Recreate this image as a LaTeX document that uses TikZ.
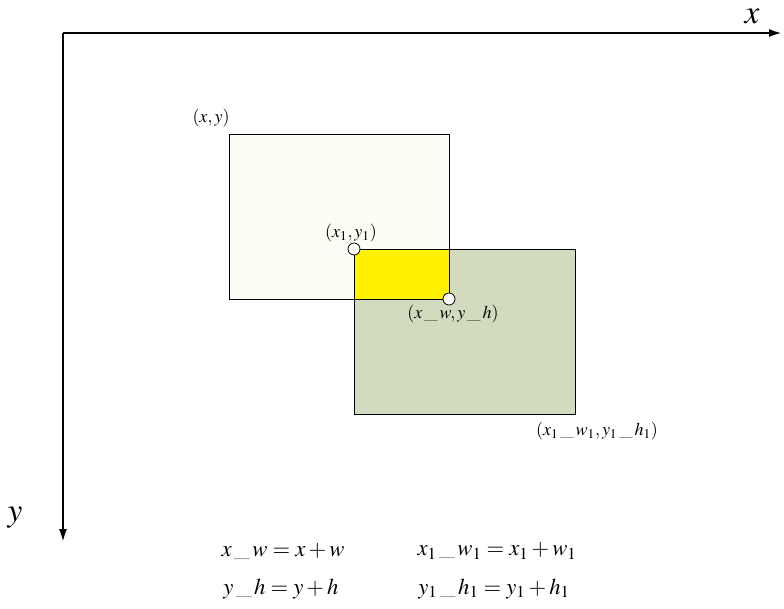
\documentclass[tikz,border=0pt]{standalone}
\usepackage{mathptmx}
\usetikzlibrary{arrows.meta}
\definecolor{lightbox}{HTML}{FCFDF4}
\definecolor{darkbox}{HTML}{D2DBBD}
\newcommand{\us}{\,\_\,}
\tikzset{
  axis/.style={-{Latex[length=9pt,width=6pt]}, line width=0.8pt},
  box/.style={draw=black, line width=0.6pt},
  pt/.style={circle, draw=black, fill=white, inner sep=0pt, minimum size=9pt, line width=0.6pt},
  lbl/.style={font=\fontsize{13.5}{15}\selectfont},
  eq/.style={font=\fontsize{17}{19}\selectfont}
}
\begin{document}
\begin{tikzpicture}[x=0.75pt,y=-0.75pt]
\useasboundingbox (0,0) rectangle (784,608);
\coordinate (o) at (63,33);
\coordinate (xe) at (781,33);
\coordinate (ye) at (63,541);
\draw[axis] (o) -- (xe);
\draw[axis] (o) -- (ye);
\node[font=\fontsize{25}{27}\selectfont] (xl) at (752,16) {$x$};
\node[font=\fontsize{25}{27}\selectfont] (yl) at (15,518) {$y$};
\filldraw[box, fill=lightbox] (229,134) rectangle (449,299);
\filldraw[box, fill=darkbox] (354,249) rectangle (575,414);
\filldraw[box, fill=yellow] (354,249) rectangle (449,299);
\node[pt] (p1) at (354,249) {};
\node[pt] (p2) at (449,299) {};
\node[lbl] (l0) at (211,118) {$(x,y)$};
\node[lbl] (l1) at (351,233) {$(x_1,y_1)$};
\node[lbl] (l2) at (453,314) {$(x\us w,y\us h)$};
\node[lbl] (l3) at (597,431) {$(x_1\us w_1,y_1\us h_1)$};
\node[eq] (e1) at (283,551) {$x\us w=x+w$};
\node[eq] (e2) at (281,589) {$y\us h=y+h$};
\node[eq] (e3) at (497,551) {$x_1\us w_1=x_1+w_1$};
\node[eq] (e4) at (494,589) {$y_1\us h_1=y_1+h_1$};
\end{tikzpicture}
\end{document}
